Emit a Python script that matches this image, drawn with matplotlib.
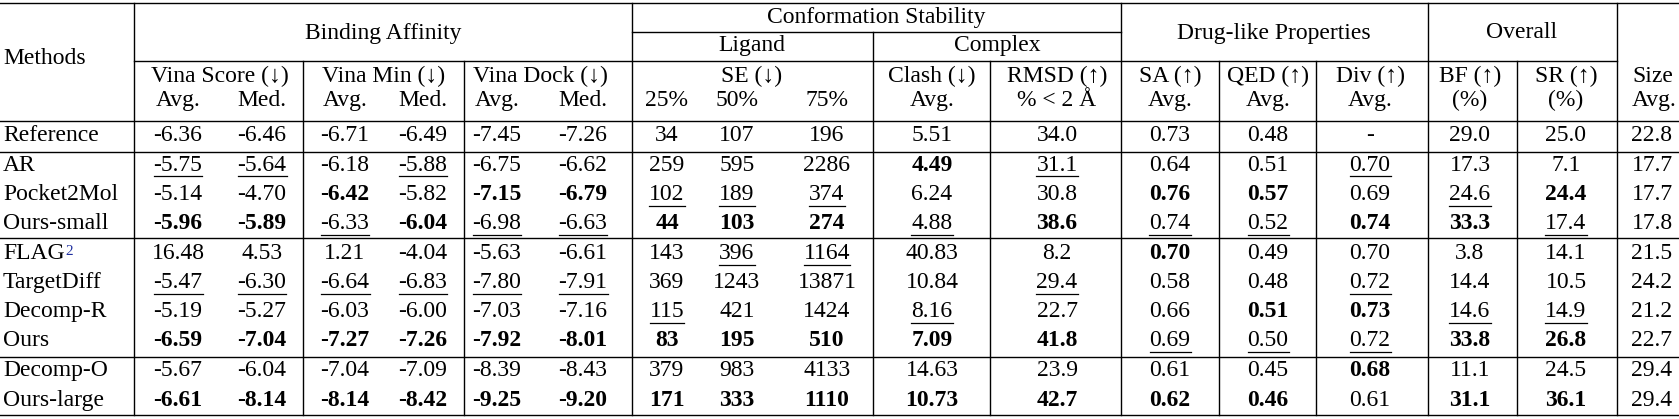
import matplotlib
matplotlib.use('Agg')
import matplotlib.pyplot as plt

W, H = 1679, 419
FONT = ['Liberation Serif', 'DejaVu Serif']
FS = 17

METHODS = ['Reference', 'AR', 'Pocket2Mol', 'Ours-small', 'FLAG', 'TargetDiff',
           'Decomp-R', 'Ours', 'Decomp-O', 'Ours-large']

VALUES = [
    ['-6.36', '-6.46', '-6.71', '-6.49', '-7.45', '-7.26', '34', '107', '196', '5.51', '34.0', '0.73', '0.48', '-', '29.0', '25.0', '22.8'],
    ['-5.75', '-5.64', '-6.18', '-5.88', '-6.75', '-6.62', '259', '595', '2286', '4.49', '31.1', '0.64', '0.51', '0.70', '17.3', '7.1', '17.7'],
    ['-5.14', '-4.70', '-6.42', '-5.82', '-7.15', '-6.79', '102', '189', '374', '6.24', '30.8', '0.76', '0.57', '0.69', '24.6', '24.4', '17.7'],
    ['-5.96', '-5.89', '-6.33', '-6.04', '-6.98', '-6.63', '44', '103', '274', '4.88', '38.6', '0.74', '0.52', '0.74', '33.3', '17.4', '17.8'],
    ['16.48', '4.53', '1.21', '-4.04', '-5.63', '-6.61', '143', '396', '1164', '40.83', '8.2', '0.70', '0.49', '0.70', '3.8', '14.1', '21.5'],
    ['-5.47', '-6.30', '-6.64', '-6.83', '-7.80', '-7.91', '369', '1243', '13871', '10.84', '29.4', '0.58', '0.48', '0.72', '14.4', '10.5', '24.2'],
    ['-5.19', '-5.27', '-6.03', '-6.00', '-7.03', '-7.16', '115', '421', '1424', '8.16', '22.7', '0.66', '0.51', '0.73', '14.6', '14.9', '21.2'],
    ['-6.59', '-7.04', '-7.27', '-7.26', '-7.92', '-8.01', '83', '195', '510', '7.09', '41.8', '0.69', '0.50', '0.72', '33.8', '26.8', '22.7'],
    ['-5.67', '-6.04', '-7.04', '-7.09', '-8.39', '-8.43', '379', '983', '4133', '14.63', '23.9', '0.61', '0.45', '0.68', '11.1', '24.5', '29.4'],
    ['-6.61', '-8.14', '-8.14', '-8.42', '-9.25', '-9.20', '171', '333', '1110', '10.73', '42.7', '0.62', '0.46', '0.61', '31.1', '36.1', '29.4'],
]

# b = bold (best), u = underline (second), . = plain
STYLES = [
    '.................',
    'uu.u.....bu..u...',
    '..b.bbuuu..bb.ubb'.replace('ubb', 'ub.'),
    'bbubuubbbubuubbu.',
    '.......uu..b.....',
    'uuuuuu....u..u...',
    '......u..u..bbuu.',
    'bbbbbbbbbbbuuubb.',
    '.............b...',
    'bbbbbbbbbbbbb.bb.',
]
STYLES[2] = '..b.bbuuu..bb.ub.'

COL_X = [178, 262, 345, 423, 497, 583, 667, 737, 827, 932, 1057,
         1170, 1268, 1370, 1470, 1566, 1652]
ROW_Y = [135, 165, 194, 223, 253, 282, 311, 340, 370, 400]

GROUPS = [('Binding Affinity', 383, 33), ('Conformation Stability', 876, 17),
          ('Ligand', 752, 46), ('Complex', 997, 46),
          ('Drug-like Properties', 1274, 33), ('Overall', 1522, 33)]
METRICS = [('Vina Score (↓)', 220), ('Vina Min (↓)', 384), ('Vina Dock (↓)', 540),
           ('SE (↓)', 752), ('Clash (↓)', 932), ('RMSD (↑)', 1057),
           ('SA (↑)', 1170), ('QED (↑)', 1268), ('Div (↑)', 1370),
           ('BF (↑)', 1470), ('SR (↑)', 1566)]
SUBS = ['Avg.', 'Med.', 'Avg.', 'Med.', 'Avg.', 'Med.', '25%', '50%', '75%',
        'Avg.', '% < 2 Å', 'Avg.', 'Avg.', 'Avg.', '(%)', '(%)', 'Avg.']

fig = plt.figure(figsize=(W / 100, H / 100), dpi=100)
ax = fig.add_axes([0, 0, 1, 1])
ax.set_xlim(0, W)
ax.set_ylim(H, 0)
ax.axis('off')

kw = dict(family=FONT, fontsize=FS, color='black')

# rules
lw = 1.0
for y in [3, 121, 152, 238, 357, 415]:
    ax.plot([0, W], [y, y], color='black', lw=lw)
ax.plot([632, 1121], [32, 32], color='black', lw=lw)
ax.plot([134, 1617], [61, 61], color='black', lw=lw)
for x in [134, 632, 1121, 1428, 1617]:
    ax.plot([x, x], [3, 415], color='black', lw=lw)
ax.plot([873, 873], [32, 415], color='black', lw=lw)
for x in [303, 464, 990, 1219, 1316, 1517]:
    ax.plot([x, x], [61, 415], color='black', lw=lw)

# header
ax.text(3, 58, 'Methods', ha='left', va='center', **kw)
for label, x, y in GROUPS:
    ax.text(x, y, label, ha='center', va='center', **kw)
for label, x in METRICS:
    ax.text(x, 76, label, ha='center', va='center', **kw)
ax.text(1632, 76, 'Size', ha='left', va='center', **kw)
for i, s in enumerate(SUBS):
    if i == len(SUBS) - 1:
        ax.text(1632, 100, s, ha='left', va='center', **kw)
    else:
        ax.text(COL_X[i], 100, s, ha='center', va='center', **kw)

# body
underlined = []
flag_txt = None
for r, (name, vals, sty) in enumerate(zip(METHODS, VALUES, STYLES)):
    y = ROW_Y[r]
    t = ax.text(3, y, name, ha='left', va='center', **kw)
    if name == 'FLAG':
        flag_txt = t
    for c, v in enumerate(vals):
        w = 'bold' if sty[c] == 'b' else 'normal'
        t = ax.text(COL_X[c], y, v, ha='center', va='center', fontweight=w, **kw)
        if sty[c] == 'u':
            underlined.append(t)

fig.canvas.draw()
inv = ax.transData.inverted()
for t in underlined:
    bb = t.get_window_extent()
    (x0, y0), (x1, y1) = inv.transform([(bb.x0, bb.y0), (bb.x1, bb.y1)])
    ax.plot([x0, x1], [y0 + 1, y0 + 1], color='black', lw=0.9)
bb = flag_txt.get_window_extent()
(fx1, fy1) = inv.transform((bb.x1, bb.y1))
ax.text(fx1 + 1, fy1 + 2, '2', ha='left', va='top', family=FONT,
        fontsize=11, color='#1f2f9f')

fig.savefig('out.png', dpi=100)
